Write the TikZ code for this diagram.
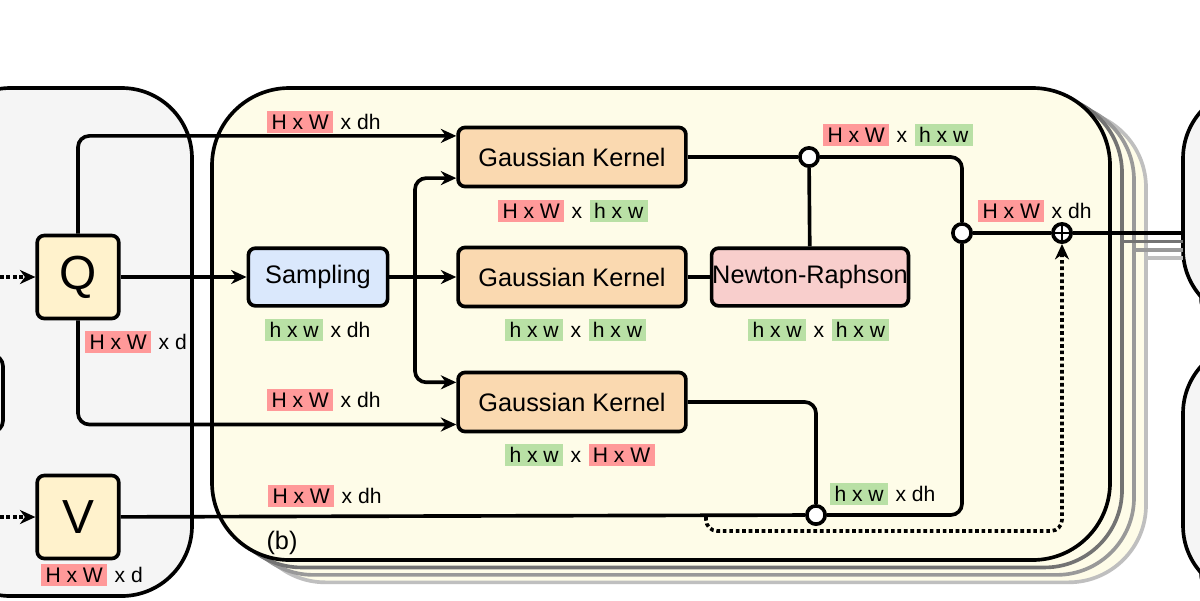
\documentclass[tikz,border=0pt]{standalone}
\usepackage{fontspec}
\setmainfont{Liberation Sans}
\usepackage{xcolor}
\usetikzlibrary{positioning, arrows.meta}
\definecolor{panelgray}{HTML}{F5F5F5}
\definecolor{panelyel}{HTML}{FEFCE8}
\definecolor{qvfill}{HTML}{FFF2CC}
\definecolor{gkfill}{HTML}{FAD9B0}
\definecolor{sampfill}{HTML}{DAE8FC}
\definecolor{nrfill}{HTML}{F8CECC}
\definecolor{redlab}{HTML}{FF9999}
\definecolor{greenlab}{HTML}{B9E0A5}
\tikzset{
  arrow/.style = {line width=2.6pt,-{Stealth[length=11pt,width=10pt]}},
  wire/.style = {line width=2.6pt},
  block/.style = {draw, line width=2.6pt, rounded corners=5pt, font=\fontsize{18}{21}\selectfont, inner sep=0pt},
  red lbl/.style = {fill=redlab, font=\fontsize{15}{17}\selectfont, inner xsep=3pt, inner ysep=2pt, text height=11pt, text depth=1pt, anchor=west},
  green lbl/.style = {red lbl, fill=greenlab},
  plain lbl/.style = {font=\fontsize{15}{17}\selectfont, inner sep=1pt, text height=11pt, text depth=1pt},
  junction/.style = {circle, draw, line width=2.6pt, fill=white, minimum size=13pt, inner sep=0pt},
}
\begin{document}
\begin{tikzpicture}[x=0.025cm,y=-0.025cm]
  \useasboundingbox (0,0) rectangle (1200,600);
  \clip (0,0) rectangle (1200,600);
  \fill[white] (0,0) rectangle (1200,600);

  % Panels:
  \draw[line width=2.6pt, fill=panelgray, rounded corners=50] (-60,88) rectangle (192,596);
  \draw[line width=2.6pt, fill=panelgray, rounded corners=50] (1183,88) rectangle (1300,320);
  \draw[line width=2.6pt, fill=panelgray, rounded corners=50] (1183,343) rectangle (1300,596);
  \draw[line width=2.6pt, fill=panelgray, rounded corners=8] (-30,355) rectangle (3,432);
  \node at (1202,300) {\fontsize{18}{21}\selectfont (};
  \node at (1202,575) {\fontsize{18}{21}\selectfont (};

  % Stacked copies behind the head:
  \foreach \o/\c in {36/black!25, 24/black!40, 12/black!55}
  {
    \draw[line width=2.6pt, draw=\c, fill=panelyel, rounded corners=55] (212+\o,88+\o*0.62) rectangle (1110+\o,560+\o*0.62);
    \draw[line width=2.6pt, draw=\c] (1110+\o,233+\o*0.7) -- (1183,233+\o*0.7);
  }
  \draw[line width=2.6pt, fill=panelyel, rounded corners=55] (212,88) rectangle (1110,560);
  \node[font=\fontsize{18}{21}\selectfont] at (282,543) {(b)};

  % Blocks:
  \node[block, fill=qvfill, minimum width=58pt, minimum height=59pt, font=\fontsize{34}{36}\selectfont] (q) at (78,277) {Q};
  \node[block, fill=qvfill, minimum width=58pt, minimum height=59pt, font=\fontsize{34}{36}\selectfont] (v) at (78,517) {V};
  \node[block, fill=sampfill, minimum width=99pt, minimum height=41pt] (samp) at (318,277) {Sampling};
  \node[block, fill=gkfill, minimum width=162pt, minimum height=42pt] (gk1) at (572,157) {Gaussian Kernel};
  \node[block, fill=gkfill, minimum width=162pt, minimum height=42pt] (gk2) at (572,277) {Gaussian Kernel};
  \node[block, fill=gkfill, minimum width=162pt, minimum height=42pt] (gk3) at (572,402) {Gaussian Kernel};
  \node[block, fill=nrfill, minimum width=140pt, minimum height=41pt] (nr) at (810,277) {Newton-Raphson};

  % Junctions:
  \node[junction] (j1) at (809,157) {};
  \node[junction] (j2) at (962,233) {};
  \node[junction] (j3) at (816,515) {};
  \node[junction] (sum) at (1062,233) {};
  \draw[line width=1.8pt] (sum.north) -- (sum.south) (sum.west) -- (sum.east);
  \coordinate (out) at (1183,233);
  \coordinate (qin) at (0,277);
  \coordinate (vin) at (0,517);

  % Connectors:
  \draw[arrow, dotted] (qin) -- (q);
  \draw[arrow, dotted] (vin) -- (v);
  \draw[arrow] (q) -- (samp);
  \draw[arrow, rounded corners=8] (q.north) |- ([yshift=15]gk1.west);
  \draw[arrow, rounded corners=8] (q.south) |- ([yshift=-16]gk3.west);
  \draw[arrow] (samp) -- (gk2);
  \draw[arrow, rounded corners=8] (415,277) |- ([yshift=-15]gk1.west);
  \draw[arrow, rounded corners=8] (415,277) |- ([yshift=14]gk3.west);
  \draw[wire] (gk1) -- (j1);
  \draw[wire, rounded corners=8] (j1) -| (j2);
  \draw[wire] (gk2) -- (nr);
  \draw[wire] (nr) -- (j1);
  \draw[wire, rounded corners=8] (gk3.east) -| (j3);
  \draw[wire] (v) -- (j3);
  \draw[wire, rounded corners=8] (j3) -| (j2);
  \draw[wire] (j2) -- (sum);
  \draw[wire] (sum) -- (out);
  \draw[arrow, dotted, rounded corners=8] (706,517) |- (1062,531) -- (sum);

  % Labels:
  \node[red lbl] (lq) at (85,342) {H x W};
  \node[plain lbl, right=4pt of lq] {x d};
  \node[red lbl] (lv) at (41,575) {H x W};
  \node[plain lbl, right=4pt of lv] {x d};
  \node[red lbl] (lt) at (267,122) {H x W};
  \node[plain lbl, right=4pt of lt] {x dh};
  \node[red lbl] (lm) at (267,400) {H x W};
  \node[plain lbl, right=4pt of lm] {x dh};
  \node[red lbl] (lb) at (268,496) {H x W};
  \node[plain lbl, right=4pt of lb] {x dh};
  \node[green lbl] (ls) at (265,330) {h x w};
  \node[plain lbl, right=4pt of ls] {x dh};
  \node[red lbl] (l1a) at (498,211) {H x W};
  \node[plain lbl, right=4pt of l1a] (l1x) {x};
  \node[green lbl, right=4pt of l1x] {h x w};
  \node[green lbl] (l2a) at (505,330) {h x w};
  \node[plain lbl, right=4pt of l2a] (l2x) {x};
  \node[green lbl, right=4pt of l2x] {h x w};
  \node[green lbl] (l3a) at (505,455) {h x w};
  \node[plain lbl, right=4pt of l3a] (l3x) {x};
  \node[red lbl, right=4pt of l3x] {H x W};
  \node[green lbl] (lna) at (748,330) {h x w};
  \node[plain lbl, right=4pt of lna] (lnx) {x};
  \node[green lbl, right=4pt of lnx] {h x w};
  \node[red lbl] (lja) at (823,135) {H x W};
  \node[plain lbl, right=4pt of lja] (ljx) {x};
  \node[green lbl, right=4pt of ljx] {h x w};
  \node[red lbl] (lo) at (978,211) {H x W};
  \node[plain lbl, right=4pt of lo] {x dh};
  \node[green lbl] (lg) at (830,494) {h x w};
  \node[plain lbl, right=4pt of lg] {x dh};
\end{tikzpicture}
\end{document}
